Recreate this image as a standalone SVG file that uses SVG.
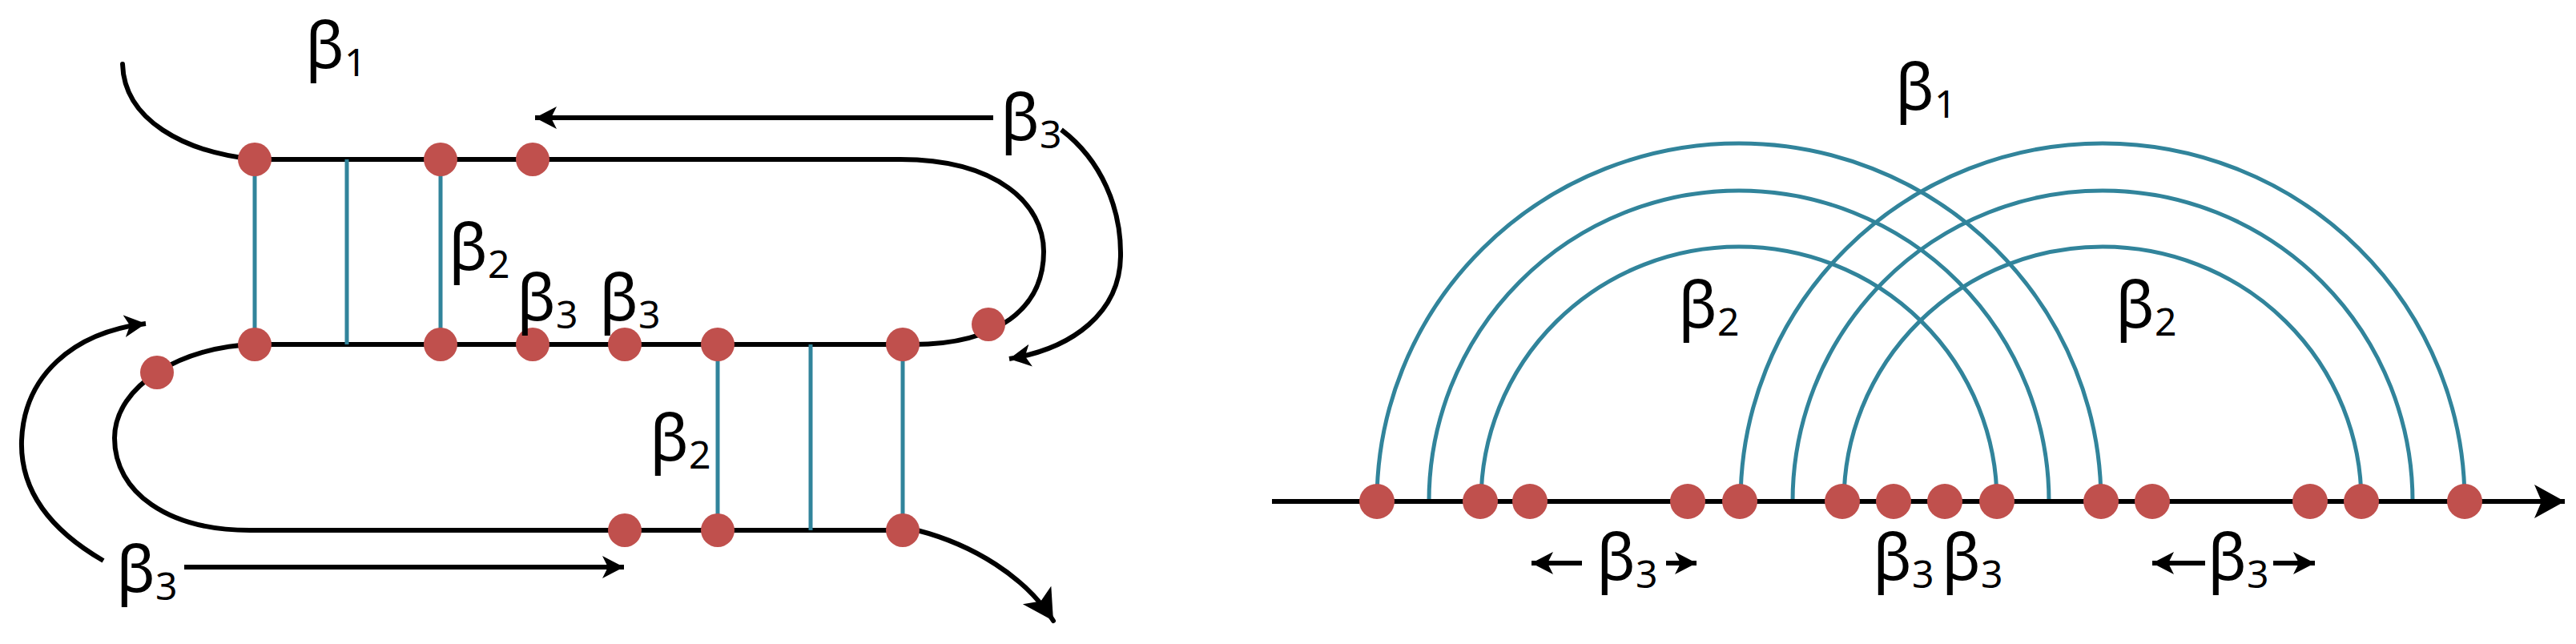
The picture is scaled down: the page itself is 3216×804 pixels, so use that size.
<svg xmlns="http://www.w3.org/2000/svg" width="3216" height="804" viewBox="0 0 3216 804">
<style>
.strand{fill:none;stroke:#000;stroke-width:6;stroke-linecap:round}
.arr{fill:none;stroke:#000;stroke-width:6}
.teal{fill:none;stroke:#31849B;stroke-width:5}
.dot{fill:#C0504D}
.lbl{font-family:"Noto Sans","DejaVu Sans",sans-serif;font-size:80px;fill:#000}
.sub{font-size:48px}
</style>
<defs>
<marker id="ah" markerUnits="userSpaceOnUse" markerWidth="30" markerHeight="30" refX="27" refY="14" orient="auto">
<path d="M27,14 L0,0 L7,14 L0,28 Z" fill="#000"/>
</marker>
<marker id="ahBig" markerUnits="userSpaceOnUse" markerWidth="42" markerHeight="44" refX="38" refY="21" orient="auto">
<path d="M38,21 L0,0 L9,21 L0,42 Z" fill="#000"/>
</marker>
</defs>

<g id="left-diagram">
<g id="connectors">
<path class="strand" marker-end="url(#ahBig)" d="M153,80 C155,150 230,190 318,199 L1124,199 C1245,199 1303,255 1303,314 C1303,385 1245,430 1140,430 L318,430 C230,432 143,480 143,547 C143,615 210,662 312,662 L1145,662 C1215,680 1280,720 1315,775"/>
<path class="arr" marker-end="url(#ah)" d="M1240,147 L668,147"/>
<path class="arr" marker-end="url(#ah)" d="M230,708 L779,708"/>
<path class="arr" marker-end="url(#ah)" d="M1325,162 C1375,200 1400,260 1399,320 C1398,390 1340,435 1260,448"/>
<path class="arr" marker-end="url(#ah)" d="M129,700 C60,660 25,610 27,550 C30,470 90,415 182,404"/>
<line class="teal" x1="318" y1="199" x2="318" y2="430"/>
<line class="teal" x1="433" y1="199" x2="433" y2="430"/>
<line class="teal" x1="550" y1="199" x2="550" y2="430"/>
<line class="teal" x1="896" y1="430" x2="896" y2="662"/>
<line class="teal" x1="1012" y1="430" x2="1012" y2="662"/>
<line class="teal" x1="1127" y1="430" x2="1127" y2="662"/>
</g>
<g id="left-dots">
<circle class="dot" cx="318" cy="199" r="21"/>
<circle class="dot" cx="550" cy="199" r="21"/>
<circle class="dot" cx="665" cy="199" r="21"/>
<circle class="dot" cx="318" cy="430" r="21"/>
<circle class="dot" cx="550" cy="430" r="21"/>
<circle class="dot" cx="665" cy="430" r="21"/>
<circle class="dot" cx="780" cy="430" r="21"/>
<circle class="dot" cx="896" cy="430" r="21"/>
<circle class="dot" cx="1127" cy="430" r="21"/>
<circle class="dot" cx="196" cy="465" r="21"/>
<circle class="dot" cx="1234" cy="405" r="21"/>
<circle class="dot" cx="780" cy="662" r="21"/>
<circle class="dot" cx="896" cy="662" r="21"/>
<circle class="dot" cx="1127" cy="662" r="21"/>
</g>
<g id="left-labels">
<text class="lbl" x="381" y="85">β<tspan class="sub" dy="10">1</tspan></text>
<text class="lbl" x="1249" y="175">β<tspan class="sub" dy="10">3</tspan></text>
<text class="lbl" x="560" y="337">β<tspan class="sub" dy="10">2</tspan></text>
<text class="lbl" x="645" y="400">β<tspan class="sub" dy="10">3</tspan></text>
<text class="lbl" x="748" y="400">β<tspan class="sub" dy="10">3</tspan></text>
<text class="lbl" x="811" y="575">β<tspan class="sub" dy="10">2</tspan></text>
<text class="lbl" x="145" y="739">β<tspan class="sub" dy="10">3</tspan></text>
</g>
</g>

<g id="right-diagram">
<g id="arcs">
<path class="teal" d="M1719,626 A452,447 0 0 1 2623,626"/>
<path class="teal" d="M1784,626 A387,388 0 0 1 2558,626"/>
<path class="teal" d="M1849,626 A322,318 0 0 1 2493,626"/>
<path class="teal" d="M2173,626 A452,447 0 0 1 3077,626"/>
<path class="teal" d="M2238,626 A387,388 0 0 1 3012,626"/>
<path class="teal" d="M2302,626 A323,318 0 0 1 2948,626"/>
</g>
<g id="axis">
<path class="arr" marker-end="url(#ahBig)" d="M1588,626 L3202,626"/>
<path class="arr" marker-end="url(#ah)" d="M1975,703 L1912,703"/>
<path class="arr" marker-end="url(#ah)" d="M2080,703 L2118,703"/>
<path class="arr" marker-end="url(#ah)" d="M2753,703 L2687,703"/>
<path class="arr" marker-end="url(#ah)" d="M2838,703 L2890,703"/>
</g>
<g id="right-dots">
<circle class="dot" cx="1719" cy="626" r="22"/>
<circle class="dot" cx="1848" cy="626" r="22"/>
<circle class="dot" cx="1910" cy="626" r="22"/>
<circle class="dot" cx="2107" cy="626" r="22"/>
<circle class="dot" cx="2172" cy="626" r="22"/>
<circle class="dot" cx="2300" cy="626" r="22"/>
<circle class="dot" cx="2364" cy="626" r="22"/>
<circle class="dot" cx="2428" cy="626" r="22"/>
<circle class="dot" cx="2493" cy="626" r="22"/>
<circle class="dot" cx="2623" cy="626" r="22"/>
<circle class="dot" cx="2687" cy="626" r="22"/>
<circle class="dot" cx="2884" cy="626" r="22"/>
<circle class="dot" cx="2948" cy="626" r="22"/>
<circle class="dot" cx="3077" cy="626" r="22"/>
</g>
<g id="right-labels">
<text class="lbl" x="2366" y="137">β<tspan class="sub" dy="10">1</tspan></text>
<text class="lbl" x="2095" y="409">β<tspan class="sub" dy="10">2</tspan></text>
<text class="lbl" x="2641" y="409">β<tspan class="sub" dy="10">2</tspan></text>
<text class="lbl" x="1993" y="724">β<tspan class="sub" dy="10">3</tspan></text>
<text class="lbl" x="2338" y="724">β<tspan class="sub" dy="10">3</tspan></text>
<text class="lbl" x="2424" y="724">β<tspan class="sub" dy="10">3</tspan></text>
<text class="lbl" x="2756" y="724">β<tspan class="sub" dy="10">3</tspan></text>
</g>
</g>
</svg>
